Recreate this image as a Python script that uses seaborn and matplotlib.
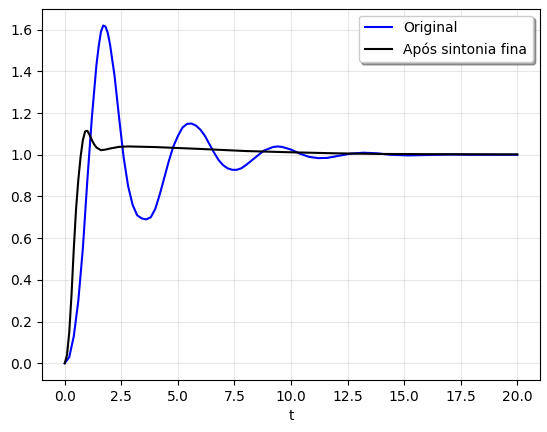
import matplotlib
matplotlib.use("Agg")
import matplotlib.pyplot as plt
import seaborn as sns

# values
t_orig = [0, 0.2, 0.4, 0.6, 0.8, 1.0, 1.2, 1.4, 1.5, 1.6, 1.7, 1.8, 1.9, 2.0, 2.2, 2.4,
          2.6, 2.8, 3.0, 3.2, 3.4, 3.6, 3.8, 4.0, 4.2, 4.4, 4.6, 4.8, 5.0, 5.2, 5.4,
          5.6, 5.8, 6.0, 6.2, 6.4, 6.6, 6.8, 7.0, 7.2, 7.4, 7.6, 7.8, 8.0, 8.4, 8.8,
          9.2, 9.4, 9.6, 10.0, 10.4, 10.8, 11.2, 11.6, 12.0, 12.6, 13.2, 13.8, 14.4,
          15.2, 16.0, 17.0, 18.0, 20.0]
y_orig = [0.0, 0.03, 0.13, 0.30, 0.55, 0.88, 1.18, 1.43, 1.52, 1.59, 1.62, 1.615, 1.585,
          1.53, 1.38, 1.18, 0.99, 0.85, 0.76, 0.71, 0.695, 0.69, 0.70, 0.74, 0.81,
          0.89, 0.97, 1.04, 1.09, 1.13, 1.148, 1.15, 1.14, 1.12, 1.09, 1.05, 1.01,
          0.975, 0.95, 0.935, 0.928, 0.928, 0.935, 0.95, 0.985, 1.02, 1.037, 1.04,
          1.038, 1.025, 1.005, 0.99, 0.984, 0.985, 0.993, 1.005, 1.01, 1.007, 1.0,
          0.997, 0.999, 1.001, 1.0, 1.0]

t_fino = [0, 0.1, 0.2, 0.3, 0.4, 0.5, 0.6, 0.7, 0.8, 0.9, 1.0, 1.1, 1.2, 1.3, 1.4,
          1.6, 1.8, 2.0, 2.4, 2.8, 4.0, 6.0, 8.0, 10.0, 12.0, 14.0, 16.0, 20.0]
y_fino = [0.0, 0.04, 0.15, 0.33, 0.55, 0.74, 0.88, 0.99, 1.07, 1.112, 1.115, 1.095,
          1.07, 1.05, 1.035, 1.022, 1.025, 1.03, 1.038, 1.04, 1.037, 1.028, 1.018,
          1.012, 1.007, 1.004, 1.003, 1.002]

fig, ax = plt.subplots(figsize=(5.47, 4.32), dpi=100)
sns.lineplot(x=t_orig, y=y_orig, ax=ax, color="blue", label="Original", linewidth=1.5)
sns.lineplot(x=t_fino, y=y_fino, ax=ax, color="black", label="Após sintonia fina", linewidth=1.5)
ax.grid(True, alpha=0.3)
ax.set_xlabel("t")
ax.set_xticks([0, 2.5, 5, 7.5, 10, 12.5, 15, 17.5, 20])
ax.legend(loc="upper right", shadow=True)
fig.subplots_adjust(left=0.077, right=0.987, top=0.98, bottom=0.12)
fig.savefig("out.png", dpi=100)
